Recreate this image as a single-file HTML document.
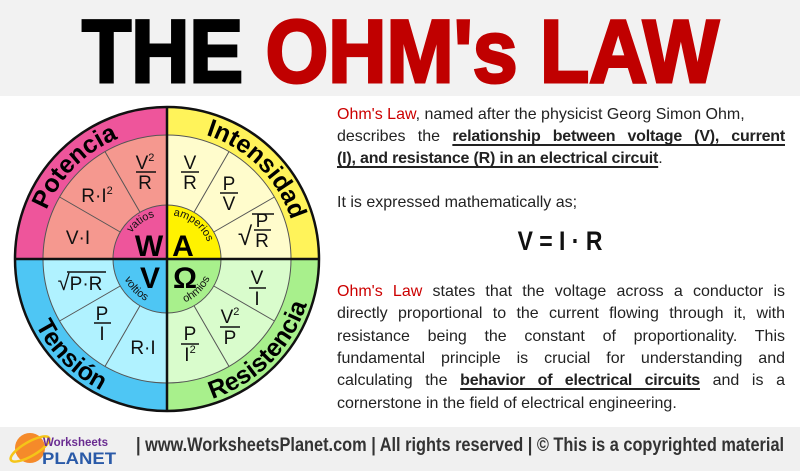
<!DOCTYPE html>
<html><head><meta charset="utf-8"><style>
html,body{margin:0;padding:0;width:800px;height:471px;overflow:hidden;background:#fff;font-family:"Liberation Sans",sans-serif}
.hdr{position:absolute;left:0;top:0;width:800px;height:96px;background:#f2f2f2}
.ftr{position:absolute;left:0;top:427px;width:800px;height:44px;background:#f0f0f0}
.t{position:absolute;left:337px;width:448px;font-size:16px;color:#222;white-space:nowrap;line-height:22px}
.j{text-align:justify;text-align-last:justify;white-space:normal}
.r{color:#c00}
.u{font-weight:bold;text-decoration:underline;text-decoration-thickness:1.5px;text-underline-offset:3px;letter-spacing:-0.2px}
</style></head><body>
<div class="hdr"></div>
<svg style="position:absolute;left:0;top:0" width="800" height="471">
<text x="82" y="82" font-family="Liberation Sans" font-weight="bold" font-size="89" textLength="637" lengthAdjust="spacingAndGlyphs" stroke-width="3" stroke="#000"><tspan fill="#000">THE </tspan><tspan fill="#c00000" stroke="#c00000">OHM's LAW</tspan></text>
<g transform="translate(167,259)" font-family="Liberation Sans">
<path d="M0 0 L-152 0 A152 152 0 0 1 0 -152Z" fill="#ee559b"/>
<path d="M0 0 L0 -152 A152 152 0 0 1 152 0Z" fill="#fff35a"/>
<path d="M0 0 L-152 0 A152 152 0 0 0 0 152Z" fill="#4ec6f4"/>
<path d="M0 0 L0 152 A152 152 0 0 0 152 0Z" fill="#a8f08c"/>
<path d="M0 0 L-124 0 A124 124 0 0 1 0 -124Z" fill="#f5988f"/>
<path d="M0 0 L0 -124 A124 124 0 0 1 124 0Z" fill="#fffccc"/>
<path d="M0 0 L-124 0 A124 124 0 0 0 0 124Z" fill="#b0f2ff"/>
<path d="M0 0 L0 124 A124 124 0 0 0 124 0Z" fill="#d9fccc"/>
<path d="M0 0 L-54 0 A54 54 0 0 1 0 -54Z" fill="#ee559b"/>
<path d="M0 0 L0 -54 A54 54 0 0 1 54 0Z" fill="#fff200"/>
<path d="M0 0 L-54 0 A54 54 0 0 0 0 54Z" fill="#4ec6f4"/>
<path d="M0 0 L0 54 A54 54 0 0 0 54 0Z" fill="#a8f08c"/>
<g stroke="#555" stroke-width="1" fill="none">
<circle r="124"/><circle r="54"/>
<path d="M46.8 27L107.4 62M27 46.8L62 107.4M-46.8 27L-107.4 62M-27 46.8L-62 107.4M46.8 -27L107.4 -62M27 -46.8L62 -107.4M-46.8 -27L-107.4 -62M-27 -46.8L-62 -107.4"/>
</g>
<circle r="152" fill="none" stroke="#111" stroke-width="2.5"/>
<path d="M-152 0H152M0 -152V152" stroke="#111" stroke-width="2.5"/>
<defs>
<path id="p1" d="M-130 0 A130 130 0 0 1 0 -130"/>
<path id="p2" d="M0 -130 A130 130 0 0 1 130 0"/>
<path id="p3" d="M-147 0 A147 147 0 0 0 0 147"/>
<path id="p4" d="M0 147 A147 147 0 0 0 147 0"/>
<path id="q1" d="M-44 0 A44 44 0 0 1 0 -44"/>
<path id="q2" d="M0 -44 A44 44 0 0 1 44 0"/>
<path id="q3" d="M-47 0 A47 47 0 0 0 0 47"/>
<path id="q4" d="M0 47 A47 47 0 0 0 47 0"/>
</defs>
<g font-weight="bold" font-size="25" fill="#000">
<text><textPath href="#p1" startOffset="50%" text-anchor="middle">Potencia</textPath></text>
<text><textPath href="#p2" startOffset="50%" text-anchor="middle">Intensidad</textPath></text>
<text><textPath href="#p3" startOffset="50%" text-anchor="middle">Tensión</textPath></text>
<text><textPath href="#p4" startOffset="50%" text-anchor="middle">Resistencia</textPath></text>
</g>
<g font-size="11" fill="#111">
<text><textPath href="#q1" startOffset="61%" text-anchor="middle">vatios</textPath></text>
<text><textPath href="#q2" startOffset="42%" text-anchor="middle">amperios</textPath></text>
<text><textPath href="#q3" startOffset="49%" text-anchor="middle">voltios</textPath></text>
<text><textPath href="#q4" startOffset="49%" text-anchor="middle">ohmios</textPath></text>
</g>
</g>
<g font-family="Liberation Sans" font-weight="bold" font-size="30" fill="#000" text-anchor="middle">
<text x="149" y="256">W</text><text x="183" y="256">A</text>
<text x="150" y="288">V</text><text x="185" y="288">Ω</text>
</g>
<g font-family="Liberation Sans" font-size="19" fill="#111" text-anchor="middle">
<text x="78" y="244">V·I</text>
<text x="97" y="202">R·I<tspan font-size="11" dy="-8">2</tspan></text>
<text x="145" y="169">V<tspan font-size="11" dy="-8">2</tspan></text><path d="M136 172H156" stroke="#111" stroke-width="1.5"/><text x="145" y="189">R</text>
<text x="190" y="169">V</text><path d="M181 172H199" stroke="#111" stroke-width="1.5"/><text x="190" y="189">R</text>
<text x="229" y="190">P</text><path d="M220 193H238" stroke="#111" stroke-width="1.5"/><text x="229" y="210">V</text>
<text x="245" y="245" font-size="26">√</text><path d="M252 214H274" stroke="#111" stroke-width="1.5"/>
<text x="262" y="227">P</text><path d="M254 230H271" stroke="#111" stroke-width="1.5"/><text x="262" y="247">R</text>
<text x="80" y="290"><tspan font-size="22">√</tspan>P·R</text><path d="M67 272H106" stroke="#111" stroke-width="1.5"/>
<text x="102" y="320">P</text><path d="M94 323H111" stroke="#111" stroke-width="1.5"/><text x="102" y="340">I</text>
<text x="143" y="354">R·I</text>
<text x="257" y="284">V</text><path d="M249 288H266" stroke="#111" stroke-width="1.5"/><text x="257" y="305">I</text>
<text x="230" y="323">V<tspan font-size="11" dy="-8">2</tspan></text><path d="M220 327H240" stroke="#111" stroke-width="1.5"/><text x="230" y="344">P</text>
<text x="190" y="340">P</text><path d="M181 344H199" stroke="#111" stroke-width="1.5"/><text x="190" y="361">I<tspan font-size="11" dy="-8">2</tspan></text>
</g>
</svg>
<div class="t" style="top:104px"><span class="r">Ohm's Law</span>, named after the physicist Georg Simon Ohm,</div>
<div class="t j" style="top:126px">describes the <span class="u">relationship between voltage (V), current</span></div>
<div class="t" style="top:148px"><span class="u">(I), and resistance (R) in an electrical circuit</span>.</div>
<div class="t" style="top:192px">It is expressed mathematically as;</div>
<div style="position:absolute;left:490px;top:226px;width:140px;text-align:center;font-weight:bold;font-size:27px;color:#111;transform:scaleX(0.85)">V = I · R</div>
<div class="t j" style="top:281px"><span class="r">Ohm's Law</span> states that the voltage across a conductor is</div>
<div class="t j" style="top:303px">directly proportional to the current flowing through it, with</div>
<div class="t j" style="top:326px">resistance being the constant of proportionality. This</div>
<div class="t j" style="top:348px">fundamental principle is crucial for understanding and</div>
<div class="t j" style="top:370px">calculating the <span class="u">behavior of electrical circuits</span> and is a</div>
<div class="t" style="top:393px">cornerstone in the field of electrical engineering.</div>
<div class="ftr"></div>
<svg style="position:absolute;left:0;top:425px" width="130" height="46">
<circle cx="30" cy="23" r="15" fill="#f58a2a"/>
<ellipse cx="30" cy="24" rx="22" ry="7" fill="none" stroke="#f5c518" stroke-width="2.5" transform="rotate(-30 30 24)"/>
<text x="43" y="21" font-family="Liberation Sans" font-weight="bold" font-size="11.5" fill="#6a2c91">Worksheets</text>
<text x="42" y="39" font-family="Liberation Sans" font-weight="bold" font-size="17" fill="#2a5aa8" textLength="74" lengthAdjust="spacingAndGlyphs">PLANET</text>
</svg>
<div style="position:absolute;left:136px;top:435px;font-weight:bold;font-size:19px;color:#333;white-space:nowrap;transform:scaleX(0.86);transform-origin:left">| www.WorksheetsPlanet.com | All rights reserved | © This is a copyrighted material</div>
</body></html>
